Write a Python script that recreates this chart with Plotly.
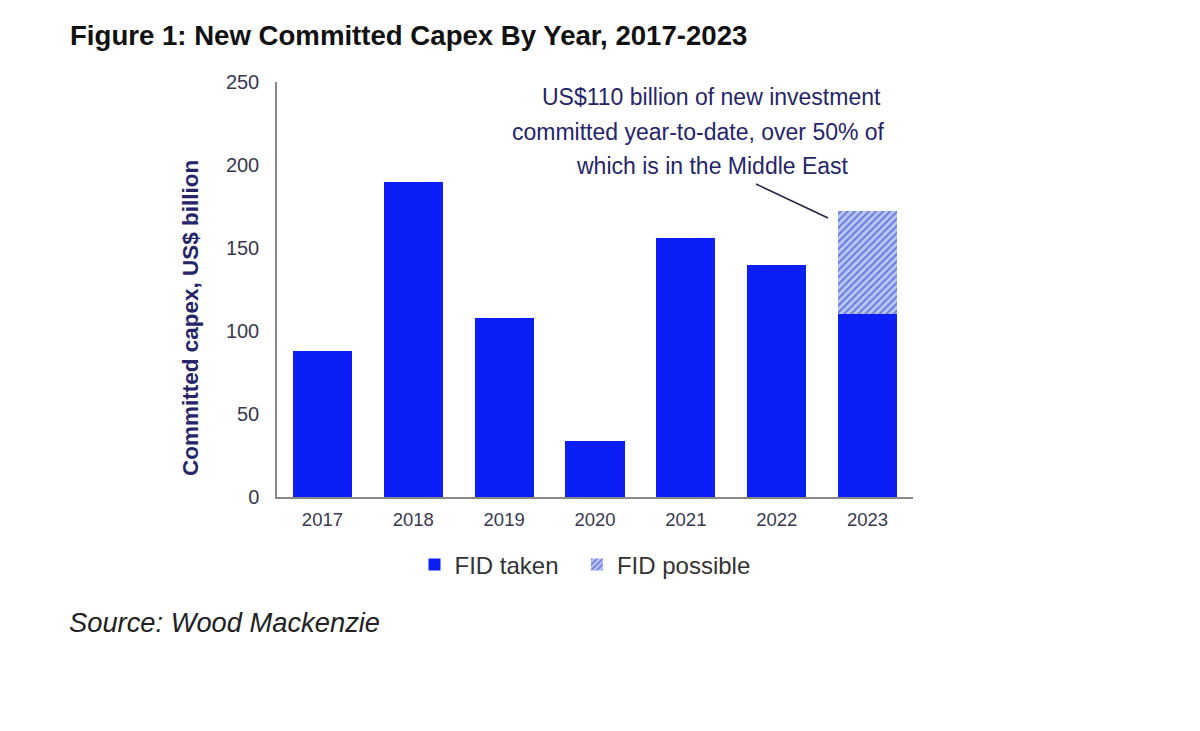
import plotly.graph_objects as go

years = ["2017", "2018", "2019", "2020", "2021", "2022", "2023"]
fid_taken = [88, 190, 108, 34, 156, 140, 110]
fid_possible = [None, None, None, None, None, None, 62]
y_ticks = [0, 50, 100, 150, 200, 250]

BLUE = "#0a1ef5"
NAVY = "#25256a"
TICK = "#383850"
W, H = 1200, 731
OFF = 8  # page body margin
L, R, T, B = 277, 913, 82, 497  # plot area in page pixels
FONT = "Liberation Sans, Arial"


def px(x):
    return (x - L) / (R - L)


def py(y):
    return (B - y) / (B - T)


fig = go.Figure()
fig.add_trace(go.Bar(
    x=years, y=fid_taken, name="FID taken\u00a0\u00a0",
    marker=dict(color=BLUE, line=dict(width=0)),
))
fig.add_trace(go.Bar(
    x=years, y=fid_possible, name="FID possible",
    marker=dict(color="#b4c2f4", line=dict(width=0),
                pattern=dict(shape="/", fgcolor="#1e2cc8", bgcolor="#b8c5f5",
                             size=5, solidity=0.4)),
))

ann = []
ann.append(dict(text="<b>Figure 1: New Committed Capex By Year, 2017-2023</b>",
                xref="paper", yref="paper", x=px(68), y=py(36), xanchor="left",
                yanchor="middle", showarrow=False,
                font=dict(family=FONT, size=27.6, color="#111")))
ann.append(dict(text="<i>Source: Wood Mackenzie</i>",
                xref="paper", yref="paper", x=px(67), y=py(622), xanchor="left",
                yanchor="middle", showarrow=False,
                font=dict(family=FONT, size=27.3, color="#222")))
ann.append(dict(text="<b>Committed capex, US$ billion</b>",
                xref="paper", yref="paper", x=px(190), y=py(318), textangle=-90,
                xanchor="center", yanchor="middle", showarrow=False,
                font=dict(family=FONT, size=22.5, color=NAVY)))
for txt, xx, yy in [("US$110 billion of new investment", 711, 97),
                    ("committed year-to-date, over 50% of", 698, 132),
                    ("which is in the Middle East", 712, 166)]:
    ann.append(dict(text=txt, xref="paper", yref="paper", x=px(xx), y=py(yy),
                    xanchor="center", yanchor="middle", showarrow=False,
                    font=dict(family=FONT, size=23, color=NAVY)))

fig.update_layout(
    width=W, height=H,
    margin=dict(l=L - OFF, r=W - R + OFF, t=T - OFF, b=H - B + OFF),
    paper_bgcolor="white", plot_bgcolor="white",
    barmode="stack", bargap=0.35,
    font=dict(family=FONT, size=19, color=TICK),
    showlegend=True,
    legend=dict(orientation="h", x=px(585), y=py(565), xanchor="center",
                yanchor="middle", font=dict(size=24, color="#333"),
                itemwidth=30, traceorder="normal"),
    annotations=ann,
    shapes=[dict(type="line", xref="paper", yref="paper",
                 x0=px(756), y0=py(184), x1=px(828), y1=py(218),
                 line=dict(color="#222244", width=1.5))],
    xaxis=dict(showline=True, linecolor="#888", linewidth=1.5, ticks="",
               tickfont=dict(size=18.5, color=TICK), showgrid=False,
               range=[-0.5, 6.5], ticklabelstandoff=5),
    yaxis=dict(showline=True, linecolor="#888", linewidth=1.5, ticks="",
               range=[0, 250], tickvals=y_ticks, showgrid=False, zeroline=False,
               tickfont=dict(size=20, color=TICK), ticklabelstandoff=12),
)

fig.write_html("out.html")
